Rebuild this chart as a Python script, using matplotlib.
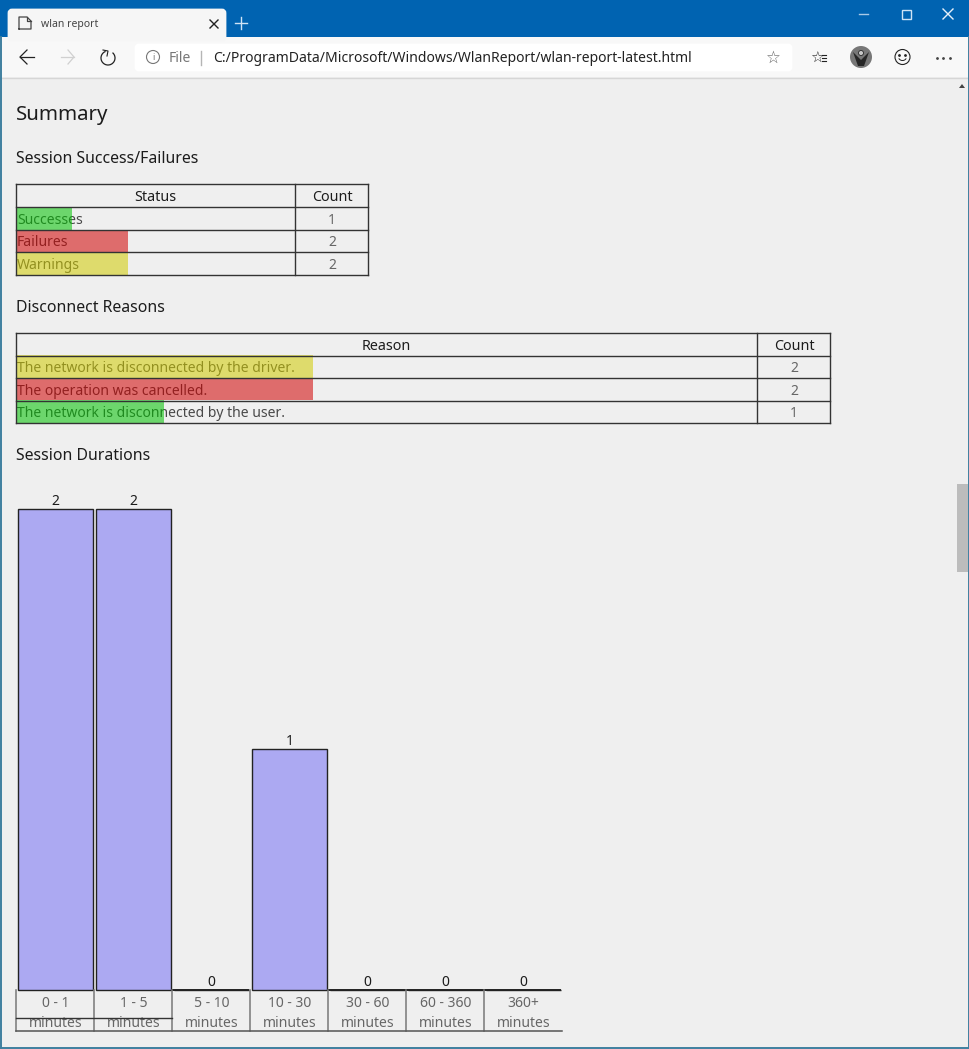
import numpy as np
import matplotlib
matplotlib.use('Agg')
import matplotlib.pyplot as plt
from matplotlib.patches import Rectangle, FancyBboxPatch, Circle, Arc, Polygon

plt.rcParams['font.family'] = ['Noto Sans', 'DejaVu Sans']

# dados
status_labels = ['Successes', 'Failures', 'Warnings']
status_counts = [1, 2, 2]
status_colors = ['green', 'red', 'yellow']

reason_labels = ['The network is disconnected by the driver.',
                 'The operation was cancelled.',
                 'The network is disconnected by the user.']
reason_counts = [2, 2, 1]
reason_colors = ['yellow', 'red', 'green']

duration_labels = ['0 - 1\nminutes', '1 - 5\nminutes', '5 - 10\nminutes', '10 - 30\nminutes',
                   '30 - 60\nminutes', '60 - 360\nminutes', '360+\nminutes']
duration_counts = [2, 2, 0, 1, 0, 0, 0]

W, H = 970, 1049
CORES = {'green': (0.0, 0.76, 0.0), 'red': (0.82, 0.0, 0.0), 'yellow': (0.82, 0.80, 0.0)}
FUNDO = '#efefef'
AZUL = '#0063b1'

fig = plt.figure(figsize=(W / 100, H / 100), dpi=100, facecolor=FUNDO)


def px_axes(left, top, right, bottom, zorder=1):
    ax = fig.add_axes([left / W, 1 - bottom / H, (right - left) / W, (bottom - top) / H], zorder=zorder)
    ax.patch.set_alpha(0)
    return ax


# camada de fundo em pixels
bg = px_axes(0, 0, W, H, zorder=1)
bg.set_xlim(0, W)
bg.set_ylim(H, 0)
bg.axis('off')

# camada de cima so para as linhas das tabelas
fg = px_axes(0, 0, W, H, zorder=5)
fg.set_xlim(0, W)
fg.set_ylim(H, 0)
fg.axis('off')

#1 - janela do navegador
bg.add_patch(Rectangle((0, 0), W, 38, color=AZUL, lw=0))
bg.add_patch(Rectangle((0, 37), W, 40, color='#f8f8f8', lw=0))
bg.add_patch(FancyBboxPatch((9, 10), 216, 30, boxstyle='round,pad=0,rounding_size=3', fc='#f6f6f6', ec='#f6f6f6', lw=2))
bg.add_patch(FancyBboxPatch((136, 45), 655, 25, boxstyle='round,pad=0,rounding_size=3', fc='white', ec='white', lw=2))
bg.plot([0, W], [77.5, 77.5], color='#d6d6d6', lw=1)
bg.plot([0.5, 0.5], [37, H], color='#3f7f9f', lw=1.4)
bg.plot([W - 1, W - 1], [37, H], color='#3f7f9f', lw=1.4)
bg.plot([0, W], [H - 1, H - 1], color='#3f7f9f', lw=1.4)

# icone de pagina da aba
bg.plot([19, 19, 27, 31, 31, 19], [29, 17, 17, 21, 29, 29], color='#444444', lw=0.9)
bg.plot([27, 27, 31], [17, 21, 21], color='#444444', lw=0.9)
bg.text(41.5, 25, 'wlan report', fontsize=7.5, color='#444444', va='center')
bg.plot([210, 218], [20, 28], color='#222222', lw=1)
bg.plot([218, 210], [20, 28], color='#222222', lw=1)
bg.plot([241, 241], [17, 29], color='#cfe3f5', lw=1)
bg.plot([235, 247], [23, 23], color='#cfe3f5', lw=1)

# controles da janela
bg.plot([859, 868], [14, 14], color='#a9c9e6', lw=1)
bg.add_patch(Rectangle((902, 9.5), 9, 9, fc='none', ec='#cfe3f5', lw=1))
bg.plot([943, 953], [9, 19], color='#e6f0fa', lw=1)
bg.plot([953, 943], [9, 19], color='#e6f0fa', lw=1)

# botoes da barra
bg.plot([20, 34], [57, 57], color='#222222', lw=0.9)
bg.plot([27, 20, 27], [50, 57, 64], color='#222222', lw=0.9)
bg.plot([61, 74], [57, 57], color='#d0d0d0', lw=0.9)
bg.plot([68, 74, 68], [50, 57, 64], color='#d0d0d0', lw=0.9)
bg.add_patch(Arc((108, 58), 14, 14, theta1=-50, theta2=250, color='#222222', lw=0.9))
bg.plot([103, 108, 107], [50, 51, 56], color='#222222', lw=0.8)
bg.add_patch(Circle((153, 57), 6.5, fc='none', ec='#777777', lw=0.8))
bg.text(153, 57.5, 'i', fontsize=6.5, color='#777777', ha='center', va='center')
bg.text(169, 59, 'File', fontsize=10, color='#777777', va='center')
bg.plot([201, 201], [51, 65], color='#b5b5b5', lw=1)
bg.text(213, 59, 'C:/ProgramData/Microsoft/Windows/WlanReport/wlan-report-latest.html',
        fontsize=10.05, color='#222222', va='center')
bg.text(773, 58, '☆', fontsize=12, color='#666666', ha='center', va='center', family='DejaVu Sans')
bg.text(817, 58, '☆', fontsize=11, color='#222222', ha='center', va='center', family='DejaVu Sans')
bg.plot([822, 826], [55, 55], color='#222222', lw=0.8)
bg.plot([822, 826], [58, 58], color='#222222', lw=0.8)
bg.plot([822, 826], [61, 61], color='#222222', lw=0.8)
bg.add_patch(Circle((861, 57), 11, fc='#777777', ec='none'))
bg.add_patch(Polygon([[853, 52], [861, 60], [869, 52], [864, 66], [858, 66]], fc='#262626', ec='none'))
bg.add_patch(Circle((861, 53), 2.5, fc='#c8c8c8', ec='#262626', lw=0.6))
bg.add_patch(Circle((902.5, 57), 7.5, fc='none', ec='#222222', lw=0.8))
# eixo y invertido: angulos positivos ficam na parte de baixo
bg.add_patch(Arc((902.5, 57), 8, 7, theta1=20, theta2=160, color='#222222', lw=0.7))
bg.plot([899.5, 905.5], [54.5, 54.5], ls='none', marker='o', ms=1.0, color='#222222')
bg.plot([937, 943.5, 950], [57.5, 57.5, 57.5], ls='none', marker='o', ms=1.0, color='#444444')

# barra de rolagem
bg.add_patch(Rectangle((957, 484), 11, 88, color='#bcbcbc', lw=0))
bg.add_patch(Polygon([[959, 88], [965, 88], [962, 84]], fc='#444444', ec='none'))

#2 - titulos
TEXTO_ESCURO = '#1c1c1c'
bg.text(16, 115, 'Summary', fontsize=14.7, color=TEXTO_ESCURO, va='center')
bg.text(16, 159, 'Session Success/Failures', fontsize=11.4, color=TEXTO_ESCURO, va='center')
bg.text(16, 307.5, 'Disconnect Reasons', fontsize=11.4, color=TEXTO_ESCURO, va='center')
bg.text(16, 455.5, 'Session Durations', fontsize=11.4, color=TEXTO_ESCURO, va='center')


#3 - tabelas
def desenhar_tabela(titulo, labels, counts, cores, x0, xm, x1, linhas):
    n = len(labels)
    # texto fica por baixo da barra translucida, igual ao relatorio
    y_cab = (linhas[0] + linhas[1]) / 2 + 2
    bg.text((x0 + xm) / 2, y_cab, titulo, fontsize=10.3, color=TEXTO_ESCURO, ha='center', va='center')
    bg.text((xm + x1) / 2, y_cab, 'Count', fontsize=10.3, color=TEXTO_ESCURO, ha='center', va='center')
    for i in range(n):
        yc = (linhas[i + 1] + linhas[i + 2]) / 2 + 2
        bg.text(x0 + 1, yc, labels[i], fontsize=10.05, color='#484848', va='center')
        bg.text((xm + x1) / 2, yc, str(counts[i]), fontsize=10.05, color='#666666', ha='center', va='center')

    ax = px_axes(x0, linhas[1], xm, linhas[-1], zorder=3)
    ax.barh(np.arange(n), counts, height=1.0, color=[CORES[c] for c in cores], alpha=0.55, lw=0)
    ax.set_xlim(0, sum(counts))
    ax.set_ylim(n - 0.5, -0.5)
    ax.axis('off')

    for y in linhas:
        fg.plot([x0, x1], [y, y], color='#333333', lw=1, solid_capstyle='projecting')
    for x in [x0, xm, x1]:
        fg.plot([x, x], [linhas[0], linhas[-1]], color='#333333', lw=1, solid_capstyle='projecting')


desenhar_tabela('Status', status_labels, status_counts, status_colors,
                16, 295.5, 368.5, [184, 207, 229.5, 252, 274.5])
desenhar_tabela('Reason', reason_labels, reason_counts, reason_colors,
                16, 757.5, 830.5, [332.5, 355.5, 378, 400.5, 423])

#4 - grafico de barras das duracoes
ax = px_axes(16.5, 508.5, 562.5, 990, zorder=3)
barras = ax.bar(np.arange(len(duration_counts)), duration_counts, width=0.96,
                color='#aca9f2', edgecolor='#222222', linewidth=1)
ax.bar_label(barras, padding=0, fontsize=10.05, color=TEXTO_ESCURO)
ax.set_xlim(-0.5, len(duration_counts) - 0.5)
ax.set_ylim(0, max(duration_counts))
ax.set_xticks(np.arange(len(duration_labels)), duration_labels, fontsize=10.05, color='#666666', linespacing=1.5)
ax.tick_params(axis='x', length=0, pad=4)
ax.set_yticks([])
for lado in ax.spines.values():
    lado.set_visible(False)
for b in barras:
    b.set_clip_on(False)

# celulas dos rotulos
colunas = 17 + 78 * np.arange(len(duration_labels) + 1) - 0.5
fg.plot([colunas[2], colunas[3] - 2], [990, 990], color='#222222', lw=1.4)
for i in [4, 5, 6]:
    fg.plot([colunas[i], colunas[i + 1] - 2], [990, 990], color='#222222', lw=1.4)
for x in colunas[:-1]:
    fg.plot([x, x], [990, 1031], color='#777777', lw=1.1)
fg.plot([colunas[0], colunas[-1]], [1030.5, 1030.5], color='#555555', lw=1.1)
fg.plot([colunas[0], colunas[2]], [1018, 1018], color='#333333', lw=1)

fig.savefig('out.png', dpi=100, facecolor=FUNDO)
